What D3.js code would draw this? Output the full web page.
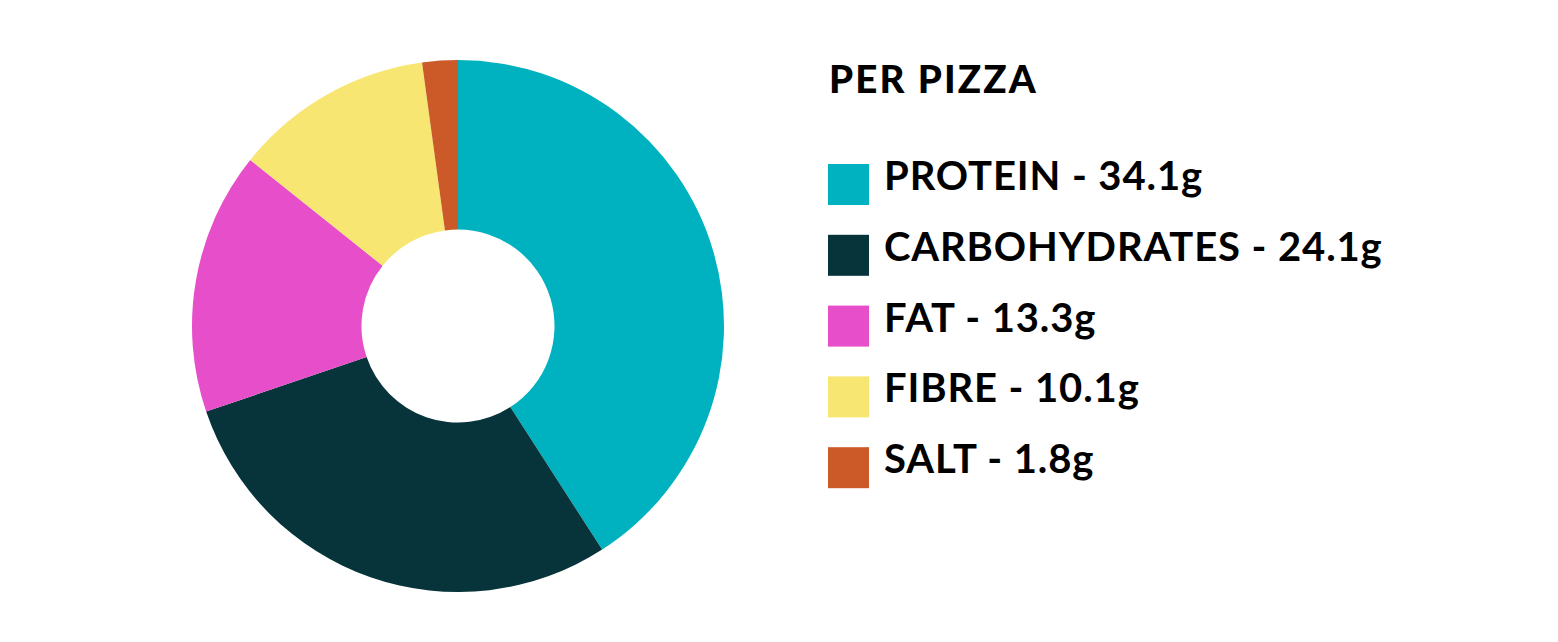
<!DOCTYPE html>
<html><head><meta charset="utf-8">
<script src="https://cdn.jsdelivr.net/npm/d3@7"></script>
<style>html,body{margin:0;padding:0;background:#fff;}svg{display:block;}</style>
</head><body>
<svg id="chart" width="1558" height="642"></svg>
<script>
const title = "PER PIZZA";
const categories = ["PROTEIN", "CARBOHYDRATES", "FAT", "FIBRE", "SALT"];
const values = [34.1, 24.1, 13.3, 10.1, 1.8];
const unit = "g";
const colors = ["#00B2BF", "#06343A", "#E64FC9", "#F8E673", "#CB5A28"];

const svg = d3.select("#chart");
const cx = 458, cy = 326, outerR = 266, innerR = 96.5;

const data = categories.map((c, i) => ({cat: c, value: values[i], color: colors[i]}));
const pie = d3.pie().sort(null).value(d => d.value);
const arc = d3.arc().innerRadius(innerR).outerRadius(outerR);

svg.append("g").attr("transform", `translate(${cx},${cy})`)
  .selectAll("path").data(pie(data)).join("path")
  .attr("d", arc).attr("fill", d => d.data.color);

const font = "Lato, 'Open Sans', sans-serif";
svg.append("text").attr("x", 829).attr("y", 92.5)
  .attr("font-family", font).attr("font-weight", 900).attr("font-size", 38.5)
  .attr("letter-spacing", 2.1)
  .attr("fill", "#000").text(title);

const y = d3.scaleBand().domain(categories).range([164, 164 + 70.8 * categories.length]).paddingInner(0);
const lg = svg.append("g");
const rows = lg.selectAll("g").data(data).join("g")
  .attr("transform", d => `translate(0,${y(d.cat)})`);
rows.append("rect").attr("x", 828).attr("y", 0).attr("width", 41).attr("height", 41)
  .attr("fill", d => d.color);
const texts = rows.append("text").attr("x", 884).attr("y", 26)
  .attr("font-family", font).attr("font-weight", 700).attr("font-size", 40)
  .attr("fill", "#000").text(d => `${d.cat} - ${d.value}${unit}`);
// match the reference width of the first row (about 319px)
const w0 = texts.node().getComputedTextLength();
const ls = Math.max(0, (319 - w0) / 15);
texts.attr("letter-spacing", ls);
</script>
</body></html>
